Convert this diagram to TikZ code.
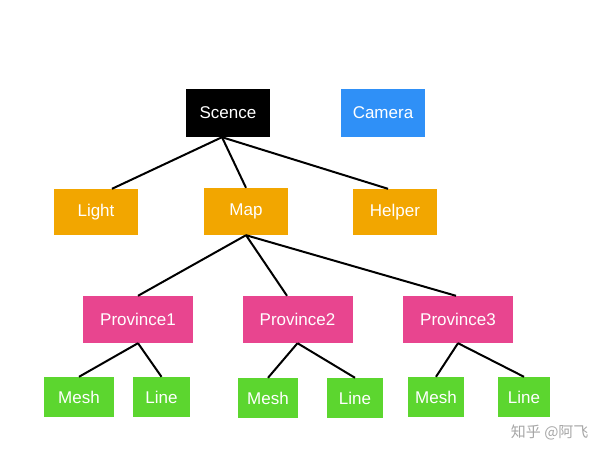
\documentclass[tikz,border=0pt]{standalone}
\usepackage{fontspec}
\setmainfont{Liberation Sans}
\newfontfamily\cjk{Noto Sans CJK SC}
\usepackage{xcolor}
\definecolor{orange}{HTML}{F2A600}
\definecolor{pink}{HTML}{E8458F}
\definecolor{green}{HTML}{5CD62F}
\definecolor{blue}{HTML}{2F90F7}

\begin{document}
\begin{tikzpicture}[x=1pt,y=-1pt,
	blk/.style={draw=none,text=white,inner sep=0pt,font=\fontsize{17}{19}\selectfont},
	link/.style={line width=2pt}]
		\newcommand{\blk}[6]{\node[blk,fill=#6,minimum width=#4,minimum height=#5] (#1) at (#2,#3) {#1};}
		\useasboundingbox (0,0) rectangle (600,458);
		
		\node[blk,fill=black,minimum width=84,minimum height=48] (sc) at (228,113) {Scence};
		\blk{Camera}{383}{113}{84}{48}{blue}
		
		\blk{Light}{96}{212}{84}{46}{orange}
		\blk{Map}{246}{211.5}{84}{47}{orange}
		\blk{Helper}{395}{212}{84}{46}{orange}
		
		\blk{Province1}{138}{319.5}{110}{47}{pink}
		\blk{Province2}{297.5}{319.5}{110}{47}{pink}
		\blk{Province3}{458}{319.5}{110}{47}{pink}
		
		\node[blk,fill=green,minimum width=70,minimum height=40] (m1) at (79,397) {Mesh};
		\node[blk,fill=green,minimum width=57,minimum height=40] (l1) at (161.5,397) {Line};
		\node[blk,fill=green,minimum width=60,minimum height=40] (m2) at (268,398) {Mesh};
		\node[blk,fill=green,minimum width=56,minimum height=40] (l2) at (355,398) {Line};
		\node[blk,fill=green,minimum width=56,minimum height=40] (m3) at (436,397) {Mesh};
		\node[blk,fill=green,minimum width=52,minimum height=40] (l3) at (524,397) {Line};
		
		\coordinate (sb) at (sc.south -| 222,0);
		\draw[link] (sb) -- (Light.north -| 112,0);
		\draw[link] (sb) -- (Map.north);
		\draw[link] (sb) -- (Helper.north -| 388,0);
		
		\coordinate (mb) at (Map.south);
		\draw[link] (mb) -- (Province1.north);
		\draw[link] (mb) -- (Province2.north -| 287,0);
		\draw[link] (mb) -- (Province3.north -| 456,0);
		
		\foreach \p/\m/\l in {Province1/m1/l1,Province2/m2/l2,Province3/m3/l3}{
			\draw[link] (\p.south) -- (\m.north);
			\draw[link] (\p.south) -- (\l.north);
		}
		
		\node[text=gray!70,font=\cjk\fontsize{15}{17}\selectfont,anchor=east] (wm) at (592,432) {知乎 @阿飞};
\end{tikzpicture}
\end{document}
